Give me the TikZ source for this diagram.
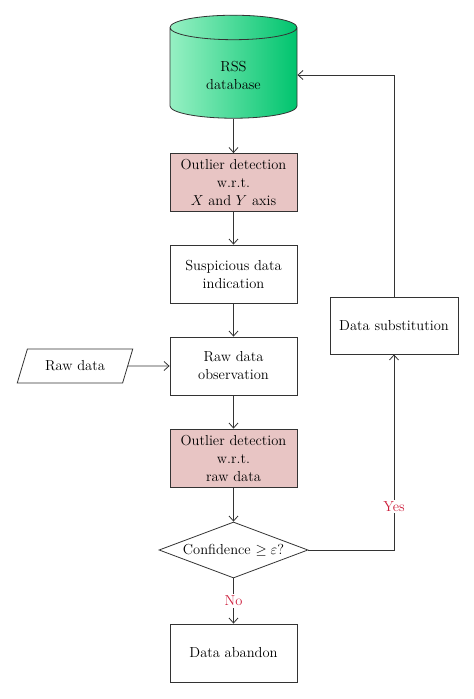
\documentclass[tikz,border=0pt]{standalone}
\usepackage{amsmath,amssymb}
\usepackage{tikz}
\usetikzlibrary{arrows.meta,positioning,shapes.geometric}
\usepackage{xcolor}
\definecolor{dbleft}{RGB}{150,240,195}
\definecolor{dbright}{RGB}{0,196,110}
\definecolor{outlierpink}{RGB}{232,197,196}
\definecolor{answerred}{RGB}{205,30,60}

\begin{document}
\begin{tikzpicture}[x=1pt,y=-1pt,
    font=\fontsize{14.5}{18}\selectfont,
    >={Straight Barb[length=5pt,width=9pt]},
    flowbox/.style={draw,black!80,text=black,thick,minimum width=127pt,minimum height=58pt,align=center,inner sep=2pt},
    outlierbox/.style={flowbox,fill=outlierpink},
    answer/.style={fill=white,text=answerred,inner sep=1.5pt},
    link/.style={->,black!80,thick}]
        \useasboundingbox (0,0) rectangle (474,699);
        % main column
        \node[cylinder,shape border rotate=90,aspect=0.4,draw,black!80,text=black,thick,
              minimum width=127pt,minimum height=103pt,left color=dbleft,right color=dbright,
              align=center] (db) at (233.5,75) {RSS\\database};
        \node[outlierbox] (outxy) at (233.5,182.5) {Outlier detection\\w.r.t.\\$X$ and $Y$ axis};
        \node[flowbox] (susp) at (233.5,274) {Suspicious data\\indication};
        \node[flowbox] (obs) at (233.5,366) {Raw data\\observation};
        \node[outlierbox] (outraw) at (233.5,458) {Outlier detection\\w.r.t.\\raw data};
        \node[diamond,draw,black!80,text=black,thick,inner sep=0pt,aspect=2.66,
              minimum width=149pt,minimum height=56pt] (conf) at (233.5,550) {Confidence $\geq \varepsilon$?};
        \node[flowbox] (aband) at (233.5,653) {Data abandon};
        % side nodes
        \node[trapezium,trapezium left angle=62,trapezium right angle=118,trapezium stretches=true,
              draw,black!80,text=black,thick,minimum width=116pt,minimum height=34pt,inner sep=1pt] (raw) at (75,366) {Raw data};
        \node[flowbox,minimum width=128pt,minimum height=57pt] (sub) at (394,325.5) {Data substitution};
        % connectors
        \draw[link] (db) -- (outxy);
        \draw[link] (outxy) -- (susp);
        \draw[link] (susp) -- (obs);
        \draw[link] (raw) -- (obs);
        \draw[link] (obs) -- (outraw);
        \draw[link] (outraw) -- (conf);
        \draw[link] (conf) -- node[answer] {No} (aband);
        \draw[link] (conf.east) -| node[answer,pos=0.61] {Yes} (sub.south);
        \draw[link] (sub.north) |- (db.east);
\end{tikzpicture}
\end{document}
